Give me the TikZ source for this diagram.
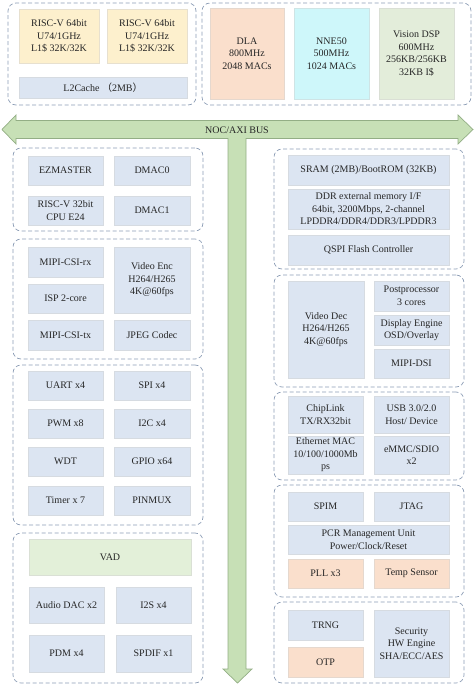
\documentclass[tikz,border=0pt]{standalone}
\usepackage{fontspec}
\setmainfont{Liberation Serif}
\newfontfamily\cjk{Noto Sans CJK SC}
\usetikzlibrary{shadows}
\definecolor{txt}{HTML}{262626}
\definecolor{grpc}{HTML}{8C9DB5}
\definecolor{cblue}{HTML}{DCE5F2}
\definecolor{cyel}{HTML}{FDF0CD}
\definecolor{cpeach}{HTML}{FADFCC}
\definecolor{ccyan}{HTML}{CEF7FA}
\definecolor{cgreen}{HTML}{E3EDDA}
\definecolor{cvad}{HTML}{E3F0D9}
\definecolor{busfill}{HTML}{C7E0B6}
\definecolor{busdraw}{HTML}{93AE85}
\tikzset{
  base/.style={inner sep=0pt, outer sep=0pt, align=center, text=txt,
    font=\fontsize{10}{12.5}\selectfont},
  boxstyle/.style={base, draw=#1!85!black!60, line width=0.3pt,
    drop shadow={shadow xshift=0.8pt, shadow yshift=-0.8pt, fill=black, opacity=0.12}},
  bl/.style={boxstyle=cblue, fill=cblue},
  yl/.style={boxstyle=cyel, fill=cyel},
  pc/.style={boxstyle=cpeach, fill=cpeach},
  cy/.style={boxstyle=ccyan, fill=ccyan},
  gr/.style={boxstyle=cgreen, fill=cgreen},
  vd/.style={boxstyle=cvad, fill=cvad},
  grp/.style={base, draw=grpc, line width=0.7pt, dash pattern=on 4pt off 2.5pt,
    rounded corners=8pt},
  bus/.style={fill=busfill, draw=busdraw, line width=0.7pt, line join=miter}
}
\newcommand{\blk}[7]{\node[#6, minimum width={(#4)-(#2)}, minimum height={(#5)-(#3)}]
  (#1) at ({((#2)+(#4))/2},{((#3)+(#5))/2}) {#7};}
\begin{document}
\begin{tikzpicture}[x=1pt,y=-1pt]
\useasboundingbox (0,0) rectangle (474,687);
% bus shape
\draw[bus] (2,129.5) -- (16,115) -- (16,120.5) -- (458,120.5) -- (458,115) -- (473,129.5)
  -- (458,144) -- (458,138.5) -- (246,138.5) -- (246,669) -- (252,669) -- (237.5,683)
  -- (223,669) -- (228,669) -- (228,138.5) -- (16,138.5) -- (16,144) -- cycle;
\node[base] (bus) at (237,130) {NOC/AXI BUS};
% top-left group
\blk{gtl}{8}{3}{196}{105}{grp}{}
\blk{cpu1}{19}{9}{99}{63}{yl}{RISC-V 64bit\\U74/1GHz\\L1\$ 32K/32K}
\blk{cpu2}{107}{9}{187}{63}{yl}{RISC-V 64bit\\U74/1GHz\\L1\$ 32K/32K}
\blk{l2}{19}{77}{187}{98}{bl}{L2Cache {\cjk（}2MB{\cjk）}}
% top-right group
\blk{gtr}{202}{3}{471}{105}{grp}{}
\blk{dla}{210}{8}{284}{99}{pc}{DLA\\800MHz\\2048 MACs}
\blk{nne}{294}{8}{369}{99}{cy}{NNE50\\500MHz\\1024 MACs}
\blk{vdsp}{379}{8}{454}{99}{gr}{Vision DSP\\600MHz\\256KB/256KB\\32KB I\$}
% left group 1
\blk{gl1}{13}{148}{203}{231}{grp}{}
\blk{ezm}{28}{156}{103}{185}{bl}{EZMASTER}
\blk{dmac0}{114}{156}{190}{185}{bl}{DMAC0}
\blk{rv32}{28}{196}{103}{225}{bl}{RISC-V 32bit\\CPU E24}
\blk{dmac1}{114}{196}{190}{225}{bl}{DMAC1}
% left group 2
\blk{gl2}{13}{239}{203}{359}{grp}{}
\blk{csirx}{28}{247}{103}{277}{bl}{MIPI-CSI-rx}
\blk{isp}{28}{284}{103}{313}{bl}{ISP 2-core}
\blk{csitx}{28}{320}{103}{350}{bl}{MIPI-CSI-tx}
\blk{venc}{114}{247}{190}{313}{bl}{Video Enc\\H264/H265\\4K@60fps}
\blk{jpeg}{114}{320}{190}{350}{bl}{JPEG Codec}
% left group 3
\blk{gl3}{13}{365}{203}{525}{grp}{}
\blk{uart}{28}{371}{103}{400}{bl}{UART x4}
\blk{spi}{114}{371}{190}{400}{bl}{SPI x4}
\blk{pwm}{28}{409}{103}{438}{bl}{PWM x8}
\blk{i2c}{114}{409}{190}{438}{bl}{I2C x4}
\blk{wdt}{28}{447}{103}{476}{bl}{WDT}
\blk{gpio}{114}{447}{190}{476}{bl}{GPIO x64}
\blk{timer}{28}{486}{103}{515}{bl}{Timer x 7}
\blk{pinmux}{114}{486}{190}{515}{bl}{PINMUX}
% left group 4
\blk{gl4}{13}{533}{203}{683}{grp}{}
\blk{vad}{29}{539}{191}{575}{vd}{VAD}
\blk{dac}{29}{587}{104}{623}{bl}{Audio DAC x2}
\blk{i2s}{116}{587}{191}{623}{bl}{I2S x4}
\blk{pdm}{29}{635}{104}{672}{bl}{PDM x4}
\blk{spdif}{116}{635}{191}{672}{bl}{SPDIF x1}
% right group 1
\blk{gr1}{274}{149}{464}{269}{grp}{}
\blk{sram}{288}{155}{449}{185}{bl}{SRAM (2MB)/BootROM (32KB)}
\blk{ddr}{288}{189}{449}{229}{bl}{DDR external memory I/F\\64bit, 3200Mbps, 2-channel\\LPDDR4/DDR4/DDR3/LPDDR3}
\blk{qspi}{288}{235}{449}{265}{bl}{QSPI Flash Controller}
% right group 2
\blk{gr2}{274}{275}{464}{387}{grp}{}
\blk{vdec}{288}{281}{364}{378}{bl}{Video Dec\\H264/H265\\4K@60fps}
\blk{post}{374}{281}{449}{311}{bl}{Postprocessor\\3 cores}
\blk{disp}{374}{315}{449}{345}{bl}{Display Engine\\OSD/Overlay}
\blk{dsi}{374}{349}{449}{378}{bl}{MIPI-DSI}
% right group 3
\blk{gr3}{274}{392}{464}{480}{grp}{}
\blk{chip}{288}{396}{363}{433}{bl}{ChipLink\\TX/RX32bit}
\blk{usb}{374}{396}{449}{433}{bl}{USB 3.0/2.0\\Host/ Device}
\blk{eth}{288}{436}{363}{474}{bl}{Ethernet MAC\\10/100/1000Mb\\ps}
\blk{emmc}{374}{436}{449}{474}{bl}{eMMC/SDIO\\x2}
% right group 4
\blk{gr4}{274}{485}{464}{597}{grp}{}
\blk{spim}{288}{492}{363}{521}{bl}{SPIM}
\blk{jtag}{374}{492}{449}{521}{bl}{JTAG}
\blk{pcr}{288}{525}{449}{554}{bl}{PCR Management Unit\\Power/Clock/Reset}
\blk{pll}{288}{559}{363}{588}{pc}{PLL x3}
\blk{temp}{374}{559}{449}{588}{pc}{Temp Sensor}
% right group 5
\blk{gr5}{274}{602}{464}{683}{grp}{}
\blk{trng}{288}{610}{363}{640}{bl}{TRNG}
\blk{otp}{288}{647}{363}{677}{pc}{OTP}
\blk{sec}{374}{610}{449}{677}{bl}{Security\\HW Engine\\SHA/ECC/AES}
\end{tikzpicture}
\end{document}
